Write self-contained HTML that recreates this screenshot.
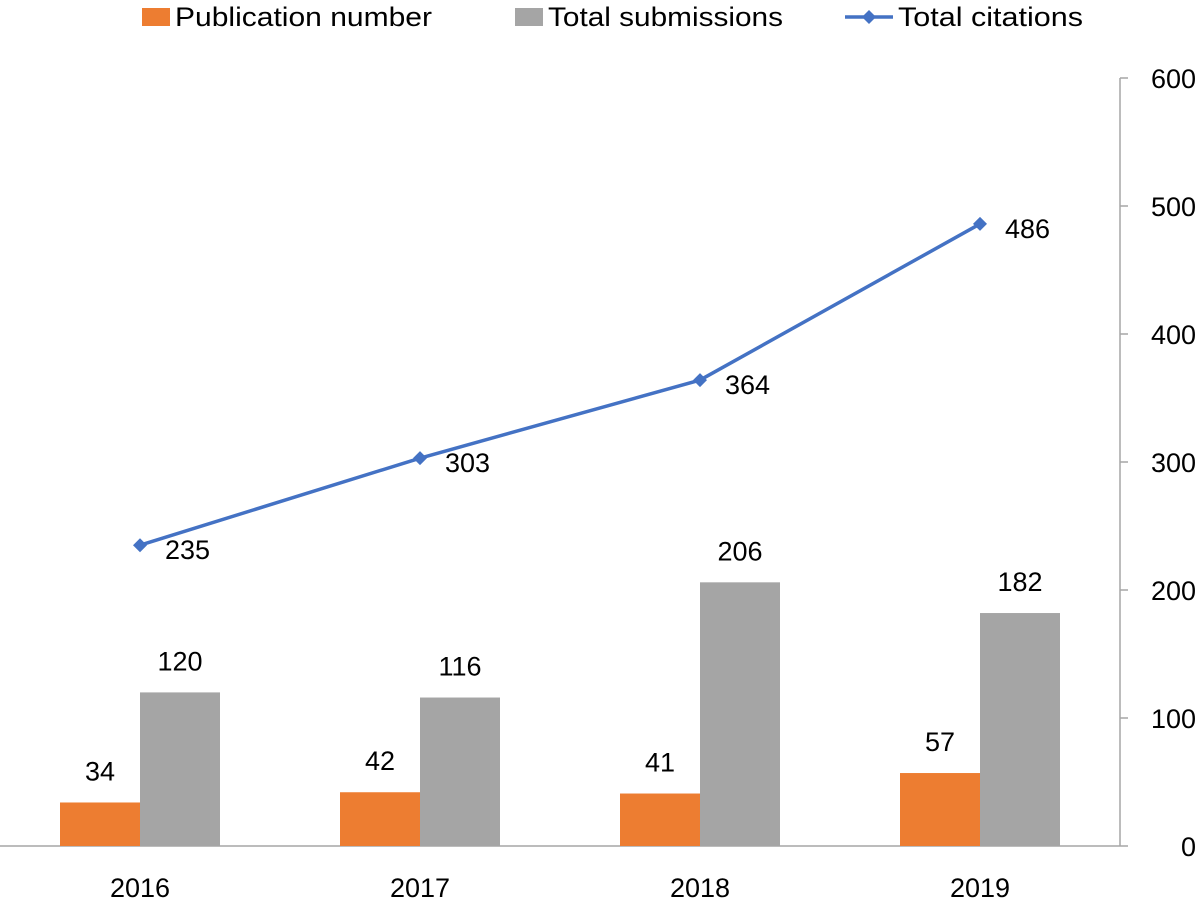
<!DOCTYPE html>
<html><head><meta charset="utf-8"><style>
html,body{margin:0;padding:0;background:#fff;}
svg text{font-family:"Liberation Sans","Noto Sans CJK KR",sans-serif;fill:#000;}
</style></head><body>
<svg id="chart" width="1200" height="906" xmlns="http://www.w3.org/2000/svg">
<g id="legend">
 <g>
  <rect x="142" y="8" width="28" height="18" fill="#ED7D31"/>
  <text x="175" y="26" font-size="27" textLength="257" lengthAdjust="spacingAndGlyphs">Publication number</text>
 </g>
 <g>
  <rect x="515" y="8" width="28" height="18" fill="#A5A5A5"/>
  <text x="548" y="26" font-size="27" textLength="235" lengthAdjust="spacingAndGlyphs">Total submissions</text>
 </g>
 <g>
  <line x1="845" y1="17" x2="893" y2="17" stroke="#4472C4" stroke-width="3.5"/>
  <path d="M869 10 L876 17 L869 24 L862 17 Z" fill="#4472C4"/>
  <text x="898" y="26" font-size="27" textLength="185" lengthAdjust="spacingAndGlyphs">Total citations</text>
 </g>
</g>
<g id="plot"></g>
</svg>
<script>
const categories = ["2016","2017","2018","2019"];
const publications = [34,42,41,57];
const submissions = [120,116,206,182];
const citations = [235,303,364,486];
const yTicks = [0,100,200,300,400,500,600];

const NS="http://www.w3.org/2000/svg";
const plot=document.getElementById('plot');
const x0=0, catW=280, yBase=846, yTop=78, yMax=600;
const y=v=>yBase-(v/yMax)*(yBase-yTop);
const cx=i=>x0+catW*i+catW/2;
const FS=27;
function mk(tag,attrs,parent){const e=document.createElementNS(NS,tag);for(const k in attrs)e.setAttribute(k,attrs[k]);(parent||plot).appendChild(e);return e;}

let ax=mk('line',{x1:0,y1:yBase,x2:1120,y2:yBase,stroke:'#a6a6a6','stroke-width':1.5});


let ay=mk('line',{x1:1120,y1:yTop,x2:1120,y2:yBase,stroke:'#a6a6a6','stroke-width':1.5});


yTicks.forEach(t=>{
 const tk=mk('line',{x1:1120,y1:y(t),x2:1128,y2:y(t),stroke:'#a6a6a6','stroke-width':1.5});
 
 
 const tl=mk('text',{x:1196,y:y(t)+10,'font-size':FS,'text-anchor':'end'});
 tl.textContent=t;
 
 
});
categories.forEach((c,i)=>{
 const t=mk('text',{x:cx(i),y:897,'font-size':FS,'text-anchor':'middle'});
 t.textContent=c;
 
 
 const b1=mk('rect',{x:cx(i)-80,y:y(publications[i]),width:80,height:yBase-y(publications[i]),fill:'#ED7D31'});
 
 
 const b2=mk('rect',{x:cx(i),y:y(submissions[i]),width:80,height:yBase-y(submissions[i]),fill:'#A5A5A5'});
 
 
 const l1=mk('text',{x:cx(i)-40,y:y(publications[i])-22,'font-size':FS,'text-anchor':'middle'});
 l1.textContent=publications[i];
 
 
 const l2=mk('text',{x:cx(i)+40,y:y(submissions[i])-22,'font-size':FS,'text-anchor':'middle'});
 l2.textContent=submissions[i];
 
 
});
const pts=citations.map((v,i)=>cx(i)+','+y(v)).join(' ');
const pl=mk('polyline',{points:pts,fill:'none',stroke:'#4472C4','stroke-width':3.5});


citations.forEach((v,i)=>{
 const px=cx(i),py=y(v);
 const d=mk('path',{d:`M${px} ${py-7} L${px+7} ${py} L${px} ${py+7} L${px-7} ${py} Z`,fill:'#4472C4'});
 
 
 const t=mk('text',{x:px+25,y:py+14,'font-size':FS});
 t.textContent=v;
 
 
});
</script>
</body></html>
